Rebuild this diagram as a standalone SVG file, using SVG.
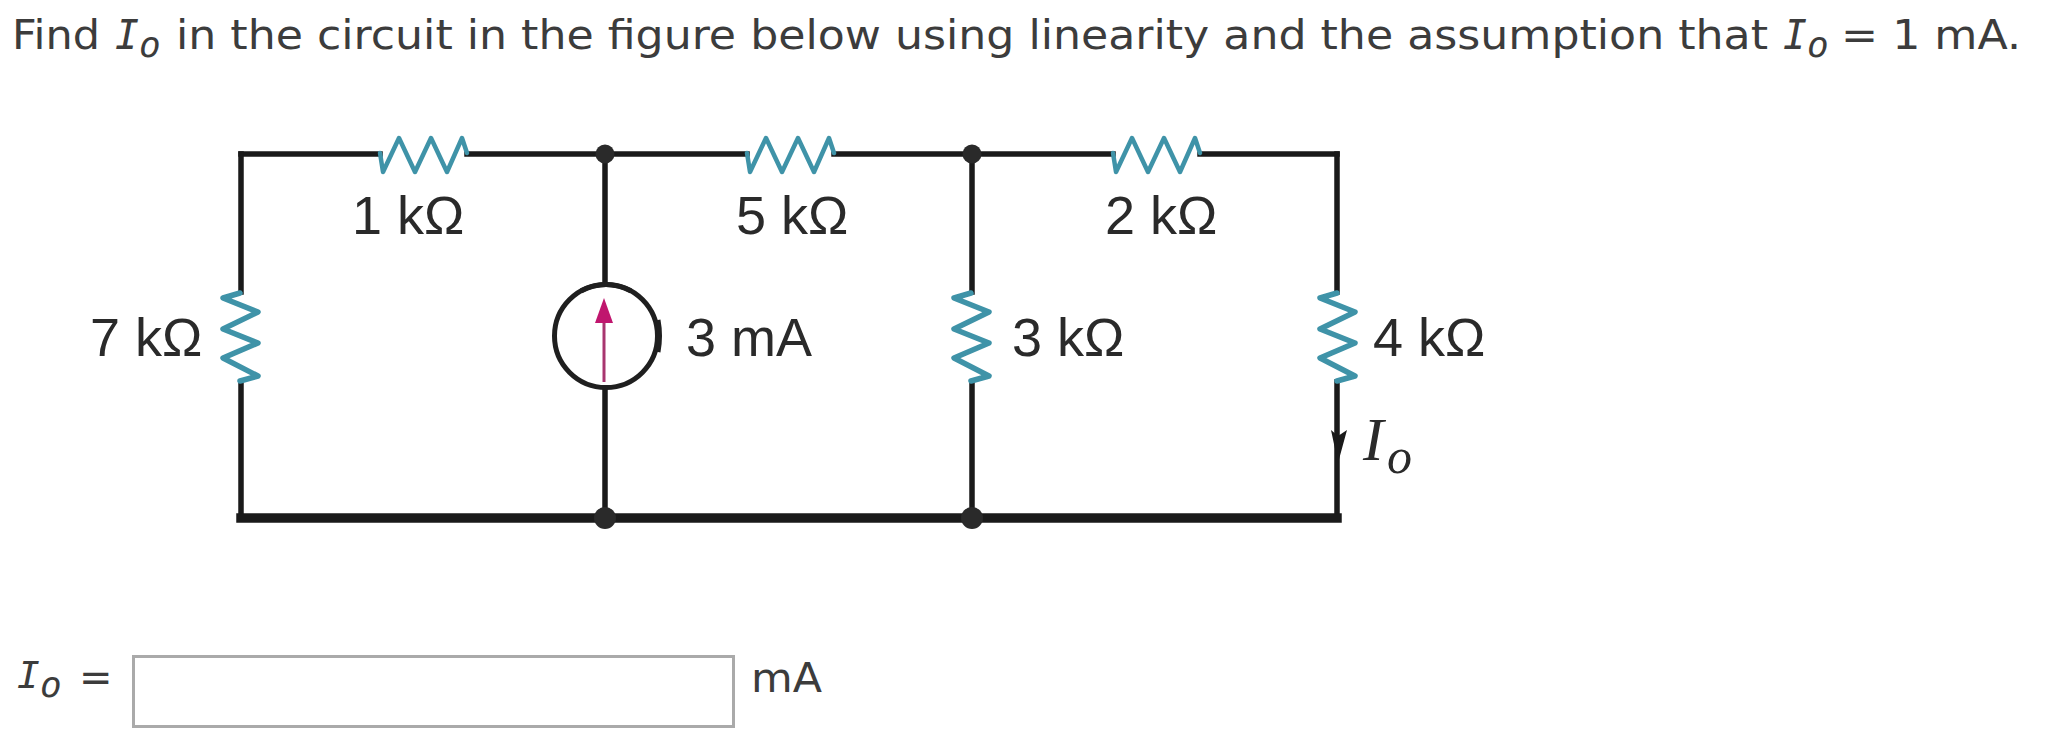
<svg xmlns="http://www.w3.org/2000/svg" width="2046" height="751" viewBox="0 0 2046 751">
<style>
.q{font-family:"DejaVu Sans",Verdana,sans-serif;font-size:40px;fill:#3c3c3c}
.qi{font-family:"DejaVu Sans Mono",monospace;font-style:italic;fill:#3c3c3c;font-size:40px}
.qo{font-family:"DejaVu Sans Mono",monospace;font-style:italic;fill:#3c3c3c;font-size:36px}
.v{font-family:"Liberation Sans",Arial,sans-serif;font-size:54px;fill:#2a2a2a}
.w{fill:none;stroke:#1a1a1a;stroke-linecap:square;stroke-linejoin:miter}
.r{fill:none;stroke:#3f93a8;stroke-width:4.500;stroke-linejoin:round;stroke-linecap:round}
.rv{fill:none;stroke:#3f93a8;stroke-width:5.500;stroke-linejoin:round;stroke-linecap:round}
.d{fill:#2a2a2a}
</style>
<rect width="2046" height="751" fill="#fff"/>
<g id="question">
<text class="q" x="12" y="49" textLength="88" lengthAdjust="spacingAndGlyphs">Find</text>
<text class="qi" x="115" y="49">I</text>
<text class="qo" x="139" y="57">o</text>
<text class="q" x="176" y="49" textLength="1592" lengthAdjust="spacingAndGlyphs">in the circuit in the figure below using linearity and the assumption that</text>
<text class="qi" x="1783" y="49">I</text>
<text class="qo" x="1807" y="57">o</text>
<text class="q" x="1841" y="49" textLength="180" lengthAdjust="spacingAndGlyphs">= 1 mA.</text>
</g>
<g id="connectors">
<path class="w" stroke-width="5.500" d="M241 154H380M467 154H747M834 154H1113M1200 154H1337"/>
<path class="w" stroke-width="5.500" d="M241 154V292M241 382V518M605 154V284M605 388V518M972 154V292M972 382V518M1337 154V292M1337 382V518"/>
<path class="w" stroke-width="9.500" d="M241 518H1337"/>
</g>
<g id="junction-top-1"><circle class="d" cx="605" cy="154" r="9.500"/></g>
<g id="junction-top-2"><circle class="d" cx="972" cy="154" r="9.500"/></g>
<g id="junction-bottom-1"><circle class="d" cx="605" cy="518" r="11"/></g>
<g id="junction-bottom-2"><circle class="d" cx="972" cy="518" r="11"/></g>
<g id="R1"><path class="r" d="M380 153L383 172L399 138L415 172L431 138L447 172L462 138L467 153"/><text class="v" x="352" y="234">1 kΩ</text></g>
<g id="R5"><path class="r" d="M747 153L750 172L766 138L782 172L798 138L814 172L829 138L834 153"/><text class="v" x="736" y="234">5 kΩ</text></g>
<g id="R2"><path class="r" d="M1113 153L1116 172L1132 138L1148 172L1164 138L1180 172L1195 138L1200 153"/><text class="v" x="1105" y="234">2 kΩ</text></g>
<g id="R7"><path class="rv" d="M240 293L223 298L258 312L223 329L258 343L223 358L258 376L240 381"/><text class="v" x="90" y="356">7 kΩ</text></g>
<g id="R3"><path class="rv" d="M971 293L954 298L989 312L954 329L989 343L954 358L989 376L971 381"/><text class="v" x="1012" y="356">3 kΩ</text></g>
<g id="R4"><path class="rv" d="M1337 293L1320 298L1355 312L1320 329L1355 343L1320 358L1355 376L1337 381"/><text class="v" x="1373" y="356">4 kΩ</text></g>
<g id="source">
<circle cx="606" cy="336" r="51.500" fill="#fff" stroke="#1f1f1f" stroke-width="5"/>
<path d="M581 291Q606 278 631 291M658 320Q661 336 658 352" fill="none" stroke="#1f1f1f" stroke-width="5"/>
<path d="M604 322V382" stroke="#a8356f" stroke-width="3" fill="none"/>
<path d="M604 298L613 323H595Z" fill="#c0166e"/>
<text class="v" x="686" y="356">3 mA</text>
</g>
<g id="Io-indicator">
<path d="M1338 463L1331 430L1338 436L1347 430Z" fill="#1a1a1a"/>
<text x="1363" y="460" font-family="Liberation Serif,serif" font-style="italic" font-size="62" fill="#2a2a2a">I</text>
<text x="1387" y="473" font-family="Liberation Serif,serif" font-style="italic" font-size="50" fill="#2a2a2a">o</text>
</g>
<g id="answer">
<text class="qi" x="17" y="688" style="font-size:38px">I</text>
<text class="qo" x="40" y="697">o</text>
<text class="q" x="79" y="691">=</text>
<rect x="133.500" y="656.500" width="600" height="70" fill="#fff" stroke="#aaa" stroke-width="3"/>
<text class="q" x="751" y="692" textLength="71" lengthAdjust="spacingAndGlyphs">mA</text>
</g>
</svg>
